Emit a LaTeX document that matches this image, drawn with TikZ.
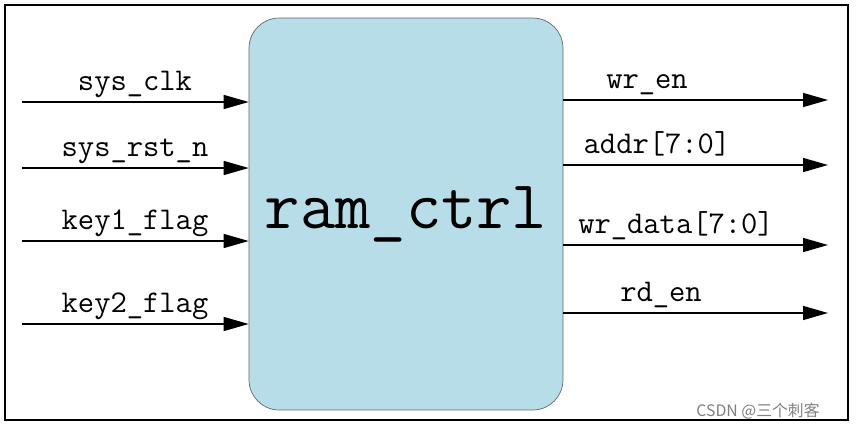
\documentclass[tikz,border=0pt]{standalone}
\usepackage{fontspec}
\newfontfamily\cjk{Noto Sans CJK SC}
\definecolor{ramblue}{RGB}{183,221,232}
\usetikzlibrary{positioning,arrows.meta}
\tikzset{
  sig/.style={-{Triangle[length=0.5cm,width=0.28cm]},line width=0.8pt},
  lbl/.style={font=\ttfamily\fontsize{18}{18}\selectfont,inner sep=0pt}
}
\begin{document}
\begin{tikzpicture}[x=0.02cm,y=-0.02cm]
  \useasboundingbox (0,0) rectangle (856,430);
  \draw[line width=1.5pt] (5,5) rectangle (848,420);
  \node[draw=gray!80!black,fill=ramblue,rounded corners=0.6cm,minimum width=6.28cm,
        minimum height=7.84cm,inner sep=0pt,font=\ttfamily\fontsize{39}{39}\selectfont] (ctrl) at (406,214) {ram\_ctrl};
  % inputs
  \foreach \y/\n/\t in {102/clk/sys\_clk,168/rst/sys\_rst\_n,241/keya/key1\_flag,324/keyb/key2\_flag}{
    \coordinate (in\n) at (22,\y);
    \draw[sig] (in\n) -- (in\n -| ctrl.west);
    \node[lbl,anchor=base] at (135,\y-12) {\t};
  }
  % outputs
  \foreach \y/\n/\t/\x in {100/wren/wr\_en/647,165/addr/addr[7:0]/657,245/wrdata/wr\_data[7:0]/676,313/rden/rd\_en/661}{
    \coordinate (out\n) at (828,\y);
    \draw[sig] (out\n -| ctrl.east) -- (out\n);
    \node[lbl,anchor=base] at (\x,\y-12) {\t};
  }
  \node[font=\cjk\fontsize{9}{9}\selectfont,text=gray,inner sep=0pt] (mark) at (758,411) {CSDN @三个刺客};
\end{tikzpicture}
\end{document}
